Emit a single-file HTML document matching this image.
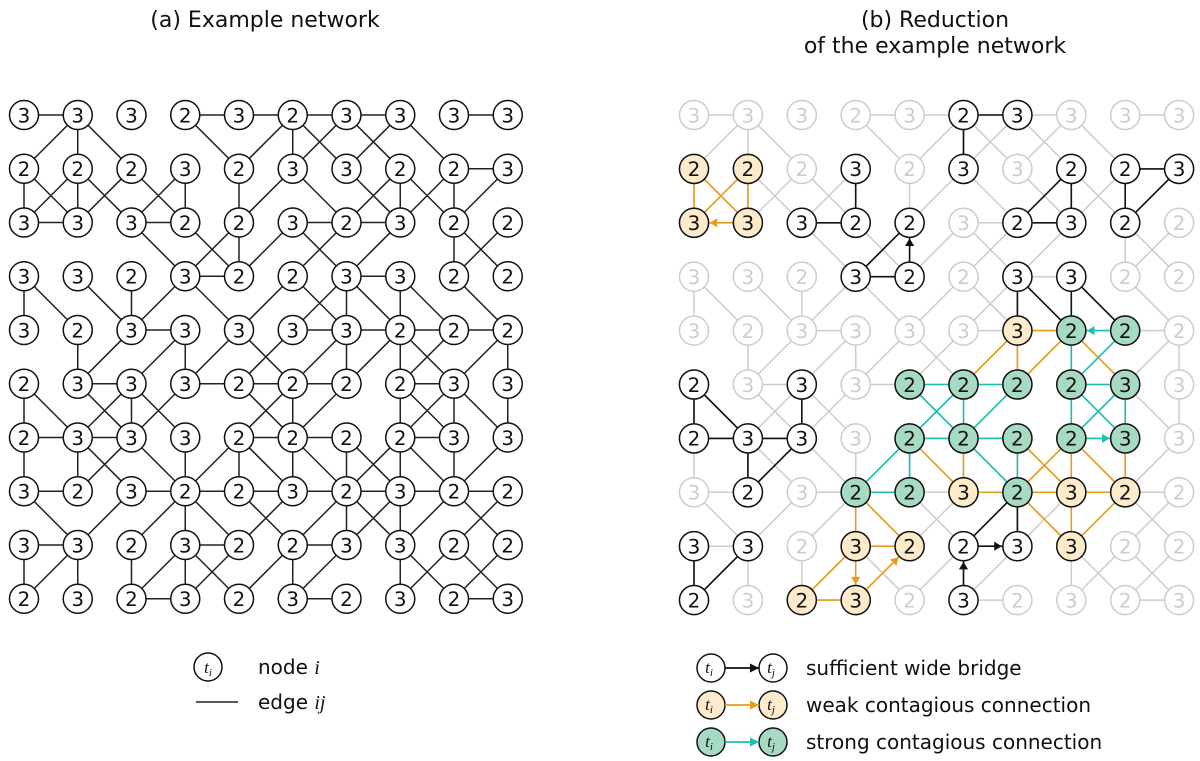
<!DOCTYPE html>
<html><head><meta charset="utf-8"><style>
html,body{margin:0;padding:0;background:#fff;}
svg{display:block;font-family:"DejaVu Sans","Liberation Sans",sans-serif;}
</style></head><body>
<svg width="1200" height="761" viewBox="0 0 1200 761" xmlns="http://www.w3.org/2000/svg">
<defs>
<path id="E" fill="none" d="M0 0L1 0M3 0L4 0M4 0L5 0M5 0L6 0M6 0L7 0M8 0L9 0
M1 0L0 1M1 0L1 1M1 0L2 1M3 0L4 1M5 0L4 1M5 0L5 1M5 0L6 1M6 0L5 1M6 0L7 1M7 0L6 1M7 0L8 1M8 1L9 1
M0 1L0 2M0 1L1 2M1 1L0 2M1 1L1 2M1 1L2 2M2 1L1 2M2 1L3 2M3 1L2 2M3 1L3 2M4 1L4 2M5 1L4 2M5 1L6 2M6 1L7 2M7 1L6 2M7 1L7 2M7 1L8 2M8 1L7 2M8 1L8 2M9 1L8 2
M0 2L1 2M2 2L3 2M5 2L6 2M6 2L7 2
M2 2L3 3M3 2L4 3M4 2L3 3M4 2L4 3M5 2L4 3M5 2L6 3M6 2L5 3M7 2L6 3M8 2L8 3M8 2L9 3M9 2L8 3
M3 3L4 3M6 3L7 3
M0 3L0 4M0 3L1 4M1 3L2 4M2 3L2 4M3 3L2 4M3 3L4 4M5 3L4 4M5 3L6 4M6 3L5 4M6 3L6 4M6 3L7 4M7 3L7 4M7 3L8 4M8 3L9 4
M2 4L3 4M5 4L6 4M6 4L7 4M7 4L8 4M8 4L9 4
M1 4L1 5M2 4L1 5M3 4L2 5M3 4L3 5M4 4L3 5M4 4L5 5M5 4L4 5M6 4L5 5M6 4L6 5M7 4L6 5M7 4L7 5M7 4L8 5M8 4L7 5M9 4L8 5M9 4L9 5
M1 5L2 5M3 5L4 5M4 5L5 5M5 5L6 5M7 5L8 5
M0 5L0 6M0 5L1 6M1 5L2 6M2 5L1 6M2 5L2 6M2 5L3 6M3 5L2 6M4 5L5 6M5 5L4 6M5 5L5 6M6 5L5 6M7 5L7 6M7 5L8 6M8 5L7 6M8 5L8 6M8 5L9 6M9 5L9 6
M0 6L1 6M1 6L2 6M4 6L5 6M5 6L6 6M7 6L8 6
M0 6L0 7M1 6L1 7M1 6L2 7M2 6L1 7M2 6L3 7M3 6L3 7M4 6L3 7M4 6L4 7M4 6L5 7M5 6L5 7M5 6L6 7M6 6L6 7M6 6L7 7M7 6L6 7M7 6L7 7M7 6L8 7M8 6L8 7M9 6L8 7
M0 7L1 7M2 7L3 7M3 7L4 7M4 7L5 7M5 7L6 7M6 7L7 7M7 7L8 7M8 7L9 7
M0 7L1 8M2 7L1 8M3 7L2 8M3 7L3 8M3 7L4 8M4 7L5 8M5 7L4 8M6 7L5 8M6 7L6 8M6 7L7 8M7 7L6 8M7 7L7 8M8 7L7 8M8 7L9 8M9 7L8 8
M0 8L1 8M3 8L4 8M5 8L6 8
M0 8L0 9M1 8L0 9M1 8L1 9M2 8L2 9M3 8L2 9M3 8L3 9M3 8L4 9M4 8L3 9M4 9L5 8M5 8L5 9M6 8L5 9M7 8L7 9M7 8L8 9M8 8L7 9M8 8L9 9M9 8L8 9
M2 9L3 9M5 9L6 9M8 9L9 9"/>
<g id="row">
<circle cx="0" cy="0" r=".27"/><circle cx="1" cy="0" r=".27"/><circle cx="2" cy="0" r=".27"/><circle cx="3" cy="0" r=".27"/><circle cx="4" cy="0" r=".27"/><circle cx="5" cy="0" r=".27"/><circle cx="6" cy="0" r=".27"/><circle cx="7" cy="0" r=".27"/><circle cx="8" cy="0" r=".27"/><circle cx="9" cy="0" r=".27"/>
</g>
<marker id="mk" markerUnits="userSpaceOnUse" orient="auto-start-reverse" markerWidth="1" markerHeight="1" viewBox="-0.5 -0.5 1 1" refX="0.43" refY="0" overflow="visible"><path d="M0,-0.085L0.14,0L0,0.085z" fill="#111"/></marker>
<marker id="mo" markerUnits="userSpaceOnUse" orient="auto-start-reverse" markerWidth="1" markerHeight="1" viewBox="-0.5 -0.5 1 1" refX="0.43" refY="0" overflow="visible"><path d="M0,-0.085L0.14,0L0,0.085z" fill="#e89c1c"/></marker>
<marker id="mt" markerUnits="userSpaceOnUse" orient="auto-start-reverse" markerWidth="1" markerHeight="1" viewBox="-0.5 -0.5 1 1" refX="0.43" refY="0" overflow="visible"><path d="M0,-0.085L0.14,0L0,0.085z" fill="#1fbdb0"/></marker>
<marker id="lk" markerUnits="userSpaceOnUse" orient="auto" markerWidth="20" markerHeight="20" viewBox="-10 -10 20 20" refX="9" refY="0" overflow="visible"><path d="M0,-4.5L9,0L0,4.5z" fill="#111"/></marker>
<marker id="lo" markerUnits="userSpaceOnUse" orient="auto" markerWidth="20" markerHeight="20" viewBox="-10 -10 20 20" refX="9" refY="0" overflow="visible"><path d="M0,-4.5L9,0L0,4.5z" fill="#e89c1c"/></marker>
<marker id="lt" markerUnits="userSpaceOnUse" orient="auto" markerWidth="20" markerHeight="20" viewBox="-10 -10 20 20" refX="9" refY="0" overflow="visible"><path d="M0,-4.5L9,0L0,4.5z" fill="#1fbdb0"/></marker>
</defs>

<text x="265" y="27" font-size="22" text-anchor="middle" fill="#111">(a) Example network</text>
<text x="935" y="27" font-size="22" text-anchor="middle" fill="#111">(b) Reduction</text>
<text x="935" y="53" font-size="22" text-anchor="middle" fill="#111">of the example network</text>

<!-- Panel A -->
<g transform="translate(24,115) scale(53.75)">
<use href="#E" stroke="#222" stroke-width="0.028"/>
<g fill="#fff" stroke="#111" stroke-width="0.028">
<use href="#row" transform="translate(0,0)"/><use href="#row" transform="translate(0,1)"/><use href="#row" transform="translate(0,2)"/><use href="#row" transform="translate(0,3)"/><use href="#row" transform="translate(0,4)"/><use href="#row" transform="translate(0,5)"/><use href="#row" transform="translate(0,6)"/><use href="#row" transform="translate(0,7)"/><use href="#row" transform="translate(0,8)"/><use href="#row" transform="translate(0,9)"/>
</g>
<g font-size=".37" text-anchor="middle" fill="#111">
<text x="0 1 2 3 4 5 6 7 8 9" y="0.135">3332323333</text>
<text x="0 1 2 3 4 5 6 7 8 9" y="1.135">2223233223</text>
<text x="0 1 2 3 4 5 6 7 8 9" y="2.135">3332232322</text>
<text x="0 1 2 3 4 5 6 7 8 9" y="3.135">3323223322</text>
<text x="0 1 2 3 4 5 6 7 8 9" y="4.135">3233333222</text>
<text x="0 1 2 3 4 5 6 7 8 9" y="5.135">2333222233</text>
<text x="0 1 2 3 4 5 6 7 8 9" y="6.135">2333222233</text>
<text x="0 1 2 3 4 5 6 7 8 9" y="7.135">3232232322</text>
<text x="0 1 2 3 4 5 6 7 8 9" y="8.135">3323223322</text>
<text x="0 1 2 3 4 5 6 7 8 9" y="9.135">2323232323</text>
</g>
</g>

<!-- Panel B -->
<g transform="translate(694,115) scale(53.9)">
<use href="#E" stroke="#cdcdcd" stroke-width="0.028"/>
<g fill="#fff" stroke="#cdcdcd" stroke-width="0.028">
<use href="#row" transform="translate(0,0)"/><use href="#row" transform="translate(0,1)"/><use href="#row" transform="translate(0,2)"/><use href="#row" transform="translate(0,3)"/><use href="#row" transform="translate(0,4)"/><use href="#row" transform="translate(0,5)"/><use href="#row" transform="translate(0,6)"/><use href="#row" transform="translate(0,7)"/><use href="#row" transform="translate(0,8)"/><use href="#row" transform="translate(0,9)"/>
</g>
<g font-size=".37" text-anchor="middle" fill="#cdcdcd">
<text x="0 1 2 3 4 5 6 7 8 9" y="0.135">3332323333</text>
<text x="0 1 2 3 4 5 6 7 8 9" y="1.135">2223233223</text>
<text x="0 1 2 3 4 5 6 7 8 9" y="2.135">3332232322</text>
<text x="0 1 2 3 4 5 6 7 8 9" y="3.135">3323223322</text>
<text x="0 1 2 3 4 5 6 7 8 9" y="4.135">3233333222</text>
<text x="0 1 2 3 4 5 6 7 8 9" y="5.135">2333222233</text>
<text x="0 1 2 3 4 5 6 7 8 9" y="6.135">2333222233</text>
<text x="0 1 2 3 4 5 6 7 8 9" y="7.135">3232232322</text>
<text x="0 1 2 3 4 5 6 7 8 9" y="8.135">3323223322</text>
<text x="0 1 2 3 4 5 6 7 8 9" y="9.135">2323232323</text>
</g>

<!-- black arrows -->
<path fill="none" stroke="#111" stroke-width="0.03" marker-end="url(#mk)" d="M3 1L3 2M2 2L3 2M3 3L4 2M3 3L4 3M6 0L5 0M5 1L5 0M7 2L7 1M7 2L6 2M9 1L8 1M9 1L8 2M7 3L8 4M1 6L0 5M1 6L0 6M1 6L1 7M2 6L1 7M0 8L0 9M1 8L0 9M5 9L5 8"/>
<path fill="none" stroke="#111" stroke-width="0.03" marker-start="url(#mk)" marker-end="url(#mk)" d="M4 2L4 3M6 2L7 1M8 1L8 2M6 3L6 4M6 3L7 4M7 3L7 4M0 5L0 6M1 6L2 6M2 5L2 6M6 7L5 8M6 7L6 8M5 8L6 8"/>
<!-- orange arrows -->
<path fill="none" stroke="#e89c1c" stroke-width="0.03" marker-end="url(#mo)" d="M0 2L0 1M1 2L1 1M0 2L1 1M1 2L0 1M6 4L5 5M8 5L7 4M5 7L4 6M5 7L6 7M7 7L6 6M8 6L8 7M7 8L6 7M7 8L8 7M3 8L3 7M3 8L2 9M3 9L2 9M3 9L4 8"/>
<path fill="none" stroke="#e89c1c" stroke-width="0.03" marker-start="url(#mo)" marker-end="url(#mo)" d="M0 2L1 2M6 4L7 4M6 4L6 5M6 5L7 4M5 7L5 6M6 7L7 7M6 7L7 6M7 6L7 7M7 6L8 7M7 7L8 7M7 8L7 7M3 7L4 8M3 8L4 8M3 8L3 9"/>
<!-- teal arrows -->
<path fill="none" stroke="#1fbdb0" stroke-width="0.03" marker-start="url(#mt)" marker-end="url(#mt)" d="M7 4L8 4M7 4L7 5M7 5L8 4M4 5L5 5M5 5L6 5M5 5L5 6M5 6L6 5M4 5L5 6M4 6L5 5M4 6L5 6M3 7L4 6M4 6L4 7M3 7L4 7M5 6L6 6M5 6L6 7M6 6L6 7M7 5L8 5M7 5L7 6M7 5L8 6M8 5L7 6M8 5L8 6M7 6L8 6"/>

<!-- highlighted nodes -->
<g stroke="#111" stroke-width="0.028">
<g fill="#fdebcb">
<circle cx="0" cy="1" r=".27"/><circle cx="1" cy="1" r=".27"/><circle cx="0" cy="2" r=".27"/><circle cx="1" cy="2" r=".27"/><circle cx="6" cy="4" r=".27"/><circle cx="5" cy="7" r=".27"/><circle cx="7" cy="7" r=".27"/><circle cx="8" cy="7" r=".27"/><circle cx="7" cy="8" r=".27"/><circle cx="3" cy="8" r=".27"/><circle cx="4" cy="8" r=".27"/><circle cx="2" cy="9" r=".27"/><circle cx="3" cy="9" r=".27"/>
</g>
<g fill="#a6dac2">
<circle cx="7" cy="4" r=".27"/><circle cx="8" cy="4" r=".27"/><circle cx="4" cy="5" r=".27"/><circle cx="5" cy="5" r=".27"/><circle cx="6" cy="5" r=".27"/><circle cx="7" cy="5" r=".27"/><circle cx="8" cy="5" r=".27"/><circle cx="4" cy="6" r=".27"/><circle cx="5" cy="6" r=".27"/><circle cx="6" cy="6" r=".27"/><circle cx="7" cy="6" r=".27"/><circle cx="8" cy="6" r=".27"/><circle cx="3" cy="7" r=".27"/><circle cx="4" cy="7" r=".27"/><circle cx="6" cy="7" r=".27"/>
</g>
<g fill="#fff">
<circle cx="3" cy="1" r=".27"/><circle cx="2" cy="2" r=".27"/><circle cx="3" cy="2" r=".27"/><circle cx="4" cy="2" r=".27"/><circle cx="3" cy="3" r=".27"/><circle cx="4" cy="3" r=".27"/><circle cx="5" cy="0" r=".27"/><circle cx="6" cy="0" r=".27"/><circle cx="5" cy="1" r=".27"/><circle cx="7" cy="1" r=".27"/><circle cx="8" cy="1" r=".27"/><circle cx="9" cy="1" r=".27"/><circle cx="6" cy="2" r=".27"/><circle cx="7" cy="2" r=".27"/><circle cx="8" cy="2" r=".27"/><circle cx="6" cy="3" r=".27"/><circle cx="7" cy="3" r=".27"/><circle cx="0" cy="5" r=".27"/><circle cx="2" cy="5" r=".27"/><circle cx="0" cy="6" r=".27"/><circle cx="1" cy="6" r=".27"/><circle cx="2" cy="6" r=".27"/><circle cx="1" cy="7" r=".27"/><circle cx="0" cy="8" r=".27"/><circle cx="1" cy="8" r=".27"/><circle cx="0" cy="9" r=".27"/><circle cx="5" cy="8" r=".27"/><circle cx="6" cy="8" r=".27"/><circle cx="5" cy="9" r=".27"/>
</g>
</g>
<g font-size=".37" text-anchor="middle" fill="#111">
<text x="5 6" y="0.135">23</text>
<text x="0 1 3 5 7 8 9" y="1.135">2233223</text>
<text x="0 1 2 3 4 6 7 8" y="2.135">33322232</text>
<text x="3 4 6 7" y="3.135">3233</text>
<text x="6 7 8" y="4.135">322</text>
<text x="0 2 4 5 6 7 8" y="5.135">2322223</text>
<text x="0 1 2 4 5 6 7 8" y="6.135">23322223</text>
<text x="1 3 4 5 6 7 8" y="7.135">2223232</text>
<text x="0 1 3 4 5 6 7" y="8.135">3332233</text>
<text x="0 2 3 5" y="9.135">2233</text>
</g>
</g>

<!-- Legend A -->
<circle cx="208" cy="667" r="14" fill="#fff" stroke="#111" stroke-width="1.5"/>
<text x="208" y="673" font-size="17" font-style="italic" text-anchor="middle" font-family="Liberation Serif, serif" fill="#111">t<tspan font-size="11" dy="3">i</tspan></text>
<text x="258" y="674" font-size="20" fill="#111">node <tspan font-style="italic" font-family="Liberation Serif, serif">i</tspan></text>
<line x1="196" y1="702" x2="238" y2="702" stroke="#222" stroke-width="1.5"/>
<text x="258" y="709" font-size="20" fill="#111">edge <tspan font-style="italic" font-family="Liberation Serif, serif">ij</tspan></text>

<!-- Legend B -->
<g stroke="#111" stroke-width="1.5">
<circle cx="711" cy="668" r="14" fill="#fff"/><circle cx="773" cy="668" r="14" fill="#fff"/>
<circle cx="711" cy="705" r="14" fill="#fdebcb"/><circle cx="773" cy="705" r="14" fill="#fdebcb"/>
<circle cx="711" cy="742" r="14" fill="#a6dac2"/><circle cx="773" cy="742" r="14" fill="#a6dac2"/>
</g>
<line x1="725" y1="668" x2="759" y2="668" stroke="#111" stroke-width="1.8" marker-end="url(#lk)"/>
<line x1="725" y1="705" x2="759" y2="705" stroke="#e89c1c" stroke-width="1.8" marker-end="url(#lo)"/>
<line x1="725" y1="742" x2="759" y2="742" stroke="#1fbdb0" stroke-width="1.8" marker-end="url(#lt)"/>
<g font-size="17" font-style="italic" text-anchor="middle" font-family="Liberation Serif, serif" fill="#111">
<text x="709" y="673">t<tspan font-size="11" dy="3">i</tspan></text><text x="771" y="673">t<tspan font-size="11" dy="3">j</tspan></text>
<text x="709" y="710">t<tspan font-size="11" dy="3">i</tspan></text><text x="771" y="710">t<tspan font-size="11" dy="3">j</tspan></text>
<text x="709" y="747">t<tspan font-size="11" dy="3">i</tspan></text><text x="771" y="747">t<tspan font-size="11" dy="3">j</tspan></text>
</g>
<g font-size="20" fill="#111">
<text x="806" y="675">sufficient wide bridge</text>
<text x="806" y="712">weak contagious connection</text>
<text x="806" y="749">strong contagious connection</text>
</g>
</svg>
</body></html>
